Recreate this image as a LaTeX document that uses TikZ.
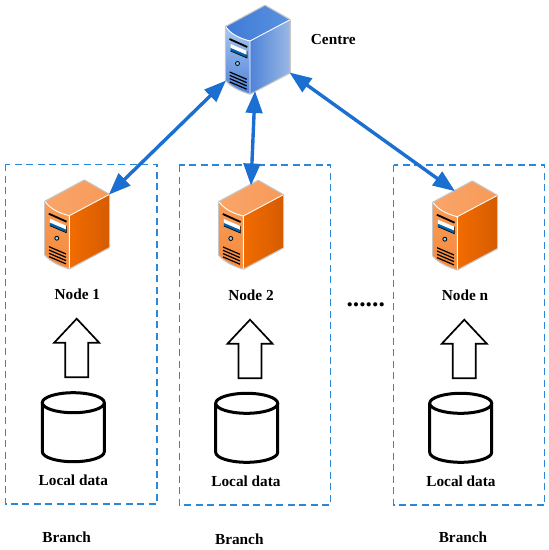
\documentclass[tikz,border=0pt]{standalone}
\usepackage{fontspec}
\setmainfont{Liberation Serif}
\usetikzlibrary{arrows.meta}

\definecolor{linkblue}{HTML}{1B6FD0}
\definecolor{boxblue}{HTML}{2E86D8}
\definecolor{bluetopa}{HTML}{3F7AD6}
\definecolor{bluetopb}{HTML}{5A92E0}
\definecolor{bluefronta}{HTML}{A9C6EE}
\definecolor{bluefrontb}{HTML}{4F82D8}
\definecolor{bluesidea}{HTML}{4F82D8}
\definecolor{bluesideb}{HTML}{98B8E4}
\definecolor{orangetopa}{HTML}{F9A56A}
\definecolor{orangetopb}{HTML}{F79A58}
\definecolor{orangefronta}{HTML}{F89C58}
\definecolor{orangefrontb}{HTML}{F58A3C}
\definecolor{orangesidea}{HTML}{F26C00}
\definecolor{orangesideb}{HTML}{D65C00}

\tikzset{
	label/.style={font=\fontsize{15.3}{18}\selectfont\bfseries, inner sep=0pt},
	branchbox/.style={draw=boxblue, line width=1.4pt, dash pattern=on 7pt off 4.5pt},
	link/.style={draw=linkblue, line width=3.4pt, {Triangle[length=22pt,width=16.5pt]}-{Triangle[length=22pt,width=16.5pt]}},
	pics/server/.style={code={
		\fill[black!22, draw=black!22, line width=2.5pt, line join=round]
			(-24,-14) -- (15,-35) -- (39.5,-21) -- (39.5,31.5) -- (0,52.5)
			.. controls (-8,50) and (-18,46) .. (-24,39) -- cycle;
		\shade[left color=#1topa, right color=#1topb]
			(-24,-14) -- (15,-35) -- (39.5,-21) -- (0,0)
			.. controls (-12,-3) and (-20,-8) .. cycle;
		\shade[left color=#1sidea, right color=#1sideb]
			(0,0) -- (39.5,-21) -- (39.5,31.5) -- (0,52.5) -- cycle;
		\shade[top color=#1fronta, bottom color=#1frontb]
			(0,0) .. controls (-12,-3) and (-20,-8) .. (-24,-14) -- (-24,39)
			.. controls (-18,46) and (-8,50) .. (0,52.5) -- cycle;
		\draw[white, line width=0.9pt]
			(-24,-14) .. controls (-20,-8) and (-12,-3) .. (0,0)
			-- (39.5,-21)
			(0,0) -- (0,52.5);
		% the drive bay
		\draw[black, line width=1.8pt] (-20.5,-2) -- (-2.7,6);
		\fill[white] (-19.5,3) -- (-3,10) -- (-3,14) -- (-19.5,7) -- cycle;
		\fill[blue!45!cyan!70!black] (-19.5,7) -- (-3,14) -- (-3,17) -- (-19.5,10) -- cycle;
		\draw[black, line width=0.6pt] (-19.5,10) -- (-3,17) -- (-3,10);
		\filldraw[fill=cyan!50!white, draw=black, line width=0.8pt] (-12.5,22.5) circle (2pt);
		% vents
		\draw[black, line width=1.2pt]
			(-20.3,31) -- (-3.3,38.3)
			(-20.3,34.3) -- (-3.3,41.6)
			(-20.3,37.6) -- (-3.3,44.9)
			(-20.3,40.9) -- (-3.3,48.2);
		\coordinate (-lb) at (-24,39.5);
		\coordinate (-fb) at (5,50);
		\coordinate (-rb) at (39.5,31.5);
		\coordinate (-rt) at (39.5,-21);
		\coordinate (-ta) at (-2.3,-25.5);
		\coordinate (-tb) at (7.7,-30.5);
	}},
	pics/upload/.style={code={
		\draw[black, line width=1.7pt, fill=white, line join=miter]
			(0,-24) -- (22.5,0) -- (11.5,0) -- (11.5,34.5) -- (-11.5,34.5)
			-- (-11.5,0) -- (-22.5,0) -- cycle;
	}},
	pics/store/.style={code={
		\draw[black, line width=3pt, fill=white]
			(-31,0) -- (-31,49) arc[start angle=180, end angle=0, x radius=31, y radius=10]
			-- (31,0);
		\draw[black, line width=3pt, fill=white]
			(0,0) ellipse[x radius=31, y radius=10];
	}},
}

\begin{document}
\begin{tikzpicture}[x=1pt,y=-1pt]
	\useasboundingbox (0,0) rectangle (549,550);

	\draw[branchbox] (5.5,164.3) rectangle (157,504);
	\draw[branchbox] (179.3,165) rectangle (330.7,505);
	\draw[branchbox] (393.7,165) rectangle (544.7,505);

	\pic (centre) at (250,41) {server=blue};
	\pic (node1) at (69.3,215.7) {server=orange};
	\pic (node2) at (243.3,216) {server=orange};
	\pic (noden) at (457.3,216.7) {server=orange};

	\node[label] (centrelabel) at (333.3,40) {Centre};
	\node[label] (node1label) at (77.3,294) {Node 1};
	\node[label] (node2label) at (251,295) {Node 2};
	\node[label] (nodenlabel) at (465,295) {Node n};

	\path[link] (centre-lb) -- (node1-rt);
	\path[link] (centre-fb) -- (node2-tb);
	\path[link] (centre-rb) -- (noden-ta);

	% block arrows, then the stores beneath them
	\pic (up1) at (76.7,342.7) {upload};
	\pic (up2) at (250,343.7) {upload};
	\pic (upn) at (464.3,343.7) {upload};

	\pic (store1) at (73.3,402.7) {store};
	\pic (store2) at (246.7,403.3) {store};
	\pic (storen) at (460.7,403.3) {store};

	\node[label] (data1) at (73.3,480) {Local data};
	\node[label] (data2) at (246,481) {Local data};
	\node[label] (datan) at (461,481) {Local data};

	\node[label] (branch1) at (66.7,537.7) {Branch};
	\node[label] (branch2) at (239.3,539) {Branch};
	\node[label] (branchn) at (463,537.7) {Branch};

	\node[inner sep=0pt, font=\fontsize{25.6}{26}\selectfont\bfseries] (gap) at (365.7,304.5) {......};
\end{tikzpicture}
\end{document}
